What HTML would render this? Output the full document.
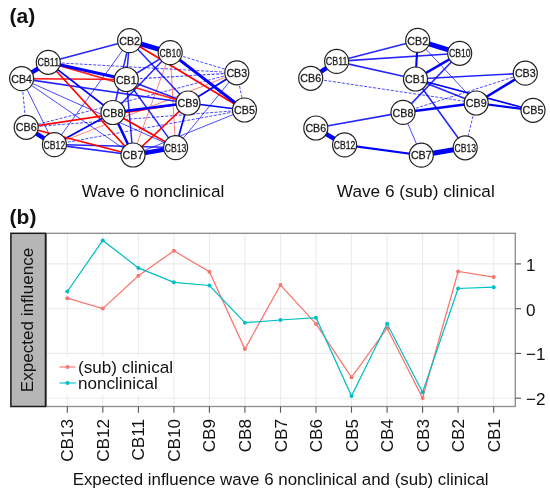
<!DOCTYPE html>
<html><head><meta charset="utf-8"><title>Expected influence networks</title>
<style>html,body{margin:0;padding:0;background:#fff;width:550px;height:495px;overflow:hidden;position:relative}</style>
</head><body>
<svg width="550" height="495" viewBox="0 0 550 495" style="position:absolute;left:0;top:0" font-family='"Liberation Sans", Arial, sans-serif'>
<rect width="550" height="495" fill="#fff"/>
<text x="9.6" y="23.2" font-size="21" font-weight="bold" fill="#111">(a)</text>
<text x="9.6" y="224.3" font-size="21" font-weight="bold" fill="#111">(b)</text>
<text x="153" y="197" font-size="17.2" text-anchor="middle" fill="#111">Wave 6 nonclinical</text>
<text x="415.8" y="197" font-size="17.2" text-anchor="middle" fill="#111">Wave 6 (sub) clinical</text>
<g stroke-linecap="butt">
<line x1="170.2" y1="52.6" x2="133.0" y2="155.0" stroke="#ff0000" stroke-opacity="0.50" stroke-width="1.00"/>
<line x1="170.2" y1="52.6" x2="175.6" y2="147.6" stroke="#ff0000" stroke-opacity="0.50" stroke-width="1.00"/>
<line x1="236.8" y1="72.8" x2="54.4" y2="144.6" stroke="#ff0000" stroke-opacity="0.50" stroke-width="1.00"/>
<line x1="48.3" y1="62.3" x2="236.8" y2="72.8" stroke="#0000ff" stroke-opacity="0.70" stroke-width="1.00" stroke-dasharray="3,1.5"/>
<line x1="21.6" y1="78.6" x2="175.6" y2="147.6" stroke="#0000ff" stroke-opacity="0.70" stroke-width="1.00"/>
<line x1="21.6" y1="78.6" x2="133.0" y2="155.0" stroke="#0000ff" stroke-opacity="0.70" stroke-width="1.00"/>
<line x1="21.6" y1="78.6" x2="54.4" y2="144.6" stroke="#0000ff" stroke-opacity="0.70" stroke-width="1.00"/>
<line x1="21.6" y1="78.6" x2="26.2" y2="127.3" stroke="#0000ff" stroke-opacity="0.70" stroke-width="1.00" stroke-dasharray="3,1.5"/>
<line x1="129.6" y1="40.6" x2="54.4" y2="144.6" stroke="#0000ff" stroke-opacity="0.70" stroke-width="1.00"/>
<line x1="170.2" y1="52.6" x2="236.8" y2="72.8" stroke="#0000ff" stroke-opacity="0.70" stroke-width="1.00" stroke-dasharray="3,1.5"/>
<line x1="236.8" y1="72.8" x2="244.5" y2="110.0" stroke="#0000ff" stroke-opacity="0.70" stroke-width="1.00" stroke-dasharray="3,1.5"/>
<line x1="236.8" y1="72.8" x2="175.6" y2="147.6" stroke="#0000ff" stroke-opacity="0.70" stroke-width="1.00"/>
<line x1="236.8" y1="72.8" x2="26.2" y2="127.3" stroke="#0000ff" stroke-opacity="0.70" stroke-width="1.00" stroke-dasharray="3,1.5"/>
<line x1="26.2" y1="127.3" x2="244.5" y2="110.0" stroke="#0000ff" stroke-opacity="0.70" stroke-width="1.00" stroke-dasharray="3,1.5"/>
<line x1="54.4" y1="144.6" x2="244.5" y2="110.0" stroke="#0000ff" stroke-opacity="0.70" stroke-width="1.00" stroke-dasharray="3,1.5"/>
<line x1="133.0" y1="155.0" x2="244.5" y2="110.0" stroke="#0000ff" stroke-opacity="0.70" stroke-width="1.00"/>
<line x1="126.3" y1="79.5" x2="236.8" y2="72.8" stroke="#0000ff" stroke-opacity="0.70" stroke-width="1.20" stroke-dasharray="3,1.5"/>
<line x1="129.6" y1="40.6" x2="126.3" y2="79.5" stroke="#0000ff" stroke-opacity="0.85" stroke-width="1.50"/>
<line x1="129.6" y1="40.6" x2="113.0" y2="112.5" stroke="#0000ff" stroke-opacity="0.85" stroke-width="1.50"/>
<line x1="129.6" y1="40.6" x2="188.0" y2="103.0" stroke="#0000ff" stroke-opacity="0.85" stroke-width="1.50"/>
<line x1="170.2" y1="52.6" x2="126.3" y2="79.5" stroke="#0000ff" stroke-opacity="0.85" stroke-width="1.50"/>
<line x1="170.2" y1="52.6" x2="113.0" y2="112.5" stroke="#0000ff" stroke-opacity="0.85" stroke-width="1.50"/>
<line x1="126.3" y1="79.5" x2="188.0" y2="103.0" stroke="#0000ff" stroke-opacity="0.85" stroke-width="1.50"/>
<line x1="126.3" y1="79.5" x2="133.0" y2="155.0" stroke="#0000ff" stroke-opacity="0.85" stroke-width="1.50"/>
<line x1="126.3" y1="79.5" x2="175.6" y2="147.6" stroke="#0000ff" stroke-opacity="0.85" stroke-width="1.50"/>
<line x1="54.4" y1="144.6" x2="175.6" y2="147.6" stroke="#0000ff" stroke-opacity="0.85" stroke-width="1.50"/>
<line x1="48.3" y1="62.3" x2="129.6" y2="40.6" stroke="#0000ff" stroke-opacity="0.85" stroke-width="1.60"/>
<line x1="21.6" y1="78.6" x2="126.3" y2="79.5" stroke="#ff0000" stroke-opacity="0.85" stroke-width="1.60"/>
<line x1="21.6" y1="78.6" x2="188.0" y2="103.0" stroke="#0000ff" stroke-opacity="0.85" stroke-width="1.60"/>
<line x1="54.4" y1="144.6" x2="133.0" y2="155.0" stroke="#0000ff" stroke-opacity="0.85" stroke-width="1.60"/>
<line x1="48.3" y1="62.3" x2="188.0" y2="103.0" stroke="#ff0000" stroke-opacity="0.85" stroke-width="1.80"/>
<line x1="48.3" y1="62.3" x2="133.0" y2="155.0" stroke="#ff0000" stroke-opacity="1.00" stroke-width="1.70"/>
<line x1="48.3" y1="62.3" x2="113.0" y2="112.5" stroke="#0000ff" stroke-opacity="1.00" stroke-width="1.70"/>
<line x1="129.6" y1="40.6" x2="244.5" y2="110.0" stroke="#ff0000" stroke-opacity="1.00" stroke-width="1.70"/>
<line x1="236.8" y1="72.8" x2="188.0" y2="103.0" stroke="#0000ff" stroke-opacity="1.00" stroke-width="1.70"/>
<line x1="188.0" y1="103.0" x2="244.5" y2="110.0" stroke="#0000ff" stroke-opacity="1.00" stroke-width="1.70"/>
<line x1="188.0" y1="103.0" x2="175.6" y2="147.6" stroke="#0000ff" stroke-opacity="1.00" stroke-width="1.70"/>
<line x1="188.0" y1="103.0" x2="133.0" y2="155.0" stroke="#ff0000" stroke-opacity="1.00" stroke-width="1.70"/>
<line x1="188.0" y1="103.0" x2="26.2" y2="127.3" stroke="#ff0000" stroke-opacity="1.00" stroke-width="1.70"/>
<line x1="113.0" y1="112.5" x2="175.6" y2="147.6" stroke="#ff0000" stroke-opacity="1.00" stroke-width="1.70"/>
<line x1="113.0" y1="112.5" x2="54.4" y2="144.6" stroke="#0000ff" stroke-opacity="1.00" stroke-width="1.70"/>
<line x1="26.2" y1="127.3" x2="133.0" y2="155.0" stroke="#ff0000" stroke-opacity="1.00" stroke-width="1.70"/>
<line x1="188.0" y1="103.0" x2="113.0" y2="112.5" stroke="#0000ff" stroke-opacity="1.00" stroke-width="2.55"/>
<line x1="113.0" y1="112.5" x2="133.0" y2="155.0" stroke="#0000ff" stroke-opacity="1.00" stroke-width="2.55"/>
<line x1="48.3" y1="62.3" x2="126.3" y2="79.5" stroke="#0000ff" stroke-opacity="1.00" stroke-width="2.98"/>
<line x1="170.2" y1="52.6" x2="244.5" y2="110.0" stroke="#0000ff" stroke-opacity="1.00" stroke-width="3.06"/>
<line x1="48.3" y1="62.3" x2="21.6" y2="78.6" stroke="#0000ff" stroke-opacity="1.00" stroke-width="4.50"/>
<line x1="26.2" y1="127.3" x2="54.4" y2="144.6" stroke="#0000ff" stroke-opacity="1.00" stroke-width="4.50"/>
<line x1="133.0" y1="155.0" x2="175.6" y2="147.6" stroke="#0000ff" stroke-opacity="1.00" stroke-width="4.50"/>
<line x1="129.6" y1="40.6" x2="170.2" y2="52.6" stroke="#0000ff" stroke-opacity="1.00" stroke-width="5.00"/>
<line x1="417.7" y1="40.4" x2="476.2" y2="103.0" stroke="#0000ff" stroke-opacity="0.70" stroke-width="1.00"/>
<line x1="403.0" y1="112.4" x2="525.3" y2="73.2" stroke="#0000ff" stroke-opacity="0.70" stroke-width="1.00" stroke-dasharray="3,1.5"/>
<line x1="403.0" y1="112.4" x2="421.3" y2="155.2" stroke="#0000ff" stroke-opacity="0.70" stroke-width="1.00"/>
<line x1="476.2" y1="103.0" x2="465.2" y2="147.8" stroke="#0000ff" stroke-opacity="0.70" stroke-width="1.00" stroke-dasharray="3,1.5"/>
<line x1="310.7" y1="78.3" x2="476.2" y2="103.0" stroke="#0000ff" stroke-opacity="0.70" stroke-width="1.00" stroke-dasharray="3,1.5"/>
<line x1="336.6" y1="61.4" x2="417.7" y2="40.4" stroke="#0000ff" stroke-opacity="0.85" stroke-width="1.60"/>
<line x1="336.6" y1="61.4" x2="459.7" y2="53.3" stroke="#0000ff" stroke-opacity="0.85" stroke-width="1.60"/>
<line x1="336.6" y1="61.4" x2="415.5" y2="79.0" stroke="#0000ff" stroke-opacity="0.85" stroke-width="1.60"/>
<line x1="459.7" y1="53.3" x2="403.0" y2="112.4" stroke="#0000ff" stroke-opacity="0.85" stroke-width="1.60"/>
<line x1="415.5" y1="79.0" x2="525.3" y2="73.2" stroke="#0000ff" stroke-opacity="0.85" stroke-width="1.60"/>
<line x1="415.5" y1="79.0" x2="476.2" y2="103.0" stroke="#0000ff" stroke-opacity="0.85" stroke-width="1.60"/>
<line x1="415.5" y1="79.0" x2="465.2" y2="147.8" stroke="#0000ff" stroke-opacity="0.85" stroke-width="1.60"/>
<line x1="403.0" y1="112.4" x2="315.8" y2="128.0" stroke="#0000ff" stroke-opacity="0.85" stroke-width="1.60"/>
<line x1="415.5" y1="79.0" x2="533.0" y2="110.3" stroke="#0000ff" stroke-opacity="1.00" stroke-width="1.70"/>
<line x1="417.7" y1="40.4" x2="415.5" y2="79.0" stroke="#0000ff" stroke-opacity="1.00" stroke-width="2.12"/>
<line x1="476.2" y1="103.0" x2="533.0" y2="110.3" stroke="#0000ff" stroke-opacity="1.00" stroke-width="2.12"/>
<line x1="344.6" y1="144.9" x2="421.3" y2="155.2" stroke="#0000ff" stroke-opacity="1.00" stroke-width="2.12"/>
<line x1="459.7" y1="53.3" x2="415.5" y2="79.0" stroke="#0000ff" stroke-opacity="1.00" stroke-width="2.55"/>
<line x1="476.2" y1="103.0" x2="525.3" y2="73.2" stroke="#0000ff" stroke-opacity="1.00" stroke-width="2.55"/>
<line x1="403.0" y1="112.4" x2="476.2" y2="103.0" stroke="#0000ff" stroke-opacity="1.00" stroke-width="2.55"/>
<line x1="310.7" y1="78.3" x2="336.6" y2="61.4" stroke="#0000ff" stroke-opacity="1.00" stroke-width="4.50"/>
<line x1="315.8" y1="128.0" x2="344.6" y2="144.9" stroke="#0000ff" stroke-opacity="1.00" stroke-width="4.50"/>
<line x1="417.7" y1="40.4" x2="459.7" y2="53.3" stroke="#0000ff" stroke-opacity="1.00" stroke-width="5.00"/>
<line x1="421.3" y1="155.2" x2="465.2" y2="147.8" stroke="#0000ff" stroke-opacity="1.00" stroke-width="5.00"/>
</g>
<circle cx="129.6" cy="40.6" r="12.0" fill="#fff" stroke="#222" stroke-width="1.2"/>
<text x="129.6" y="44.7" font-size="11.8" text-anchor="middle" textLength="20.8" lengthAdjust="spacingAndGlyphs" fill="#1a1a1a" stroke="#1a1a1a" stroke-width="0.3">CB2</text>
<circle cx="170.2" cy="52.6" r="12.0" fill="#fff" stroke="#222" stroke-width="1.2"/>
<text x="170.2" y="56.5" font-size="11.4" text-anchor="middle" textLength="21.6" lengthAdjust="spacingAndGlyphs" fill="#1a1a1a" stroke="#1a1a1a" stroke-width="0.3">CB10</text>
<circle cx="48.3" cy="62.3" r="12.0" fill="#fff" stroke="#222" stroke-width="1.2"/>
<text x="48.3" y="66.2" font-size="11.4" text-anchor="middle" textLength="21.6" lengthAdjust="spacingAndGlyphs" fill="#1a1a1a" stroke="#1a1a1a" stroke-width="0.3">CB11</text>
<circle cx="21.6" cy="78.6" r="12.0" fill="#fff" stroke="#222" stroke-width="1.2"/>
<text x="21.6" y="82.7" font-size="11.8" text-anchor="middle" textLength="20.8" lengthAdjust="spacingAndGlyphs" fill="#1a1a1a" stroke="#1a1a1a" stroke-width="0.3">CB4</text>
<circle cx="126.3" cy="79.5" r="12.0" fill="#fff" stroke="#222" stroke-width="1.2"/>
<text x="126.3" y="83.6" font-size="11.8" text-anchor="middle" textLength="20.8" lengthAdjust="spacingAndGlyphs" fill="#1a1a1a" stroke="#1a1a1a" stroke-width="0.3">CB1</text>
<circle cx="236.8" cy="72.8" r="12.0" fill="#fff" stroke="#222" stroke-width="1.2"/>
<text x="236.8" y="76.9" font-size="11.8" text-anchor="middle" textLength="20.8" lengthAdjust="spacingAndGlyphs" fill="#1a1a1a" stroke="#1a1a1a" stroke-width="0.3">CB3</text>
<circle cx="188.0" cy="103.0" r="12.0" fill="#fff" stroke="#222" stroke-width="1.2"/>
<text x="188.0" y="107.1" font-size="11.8" text-anchor="middle" textLength="20.8" lengthAdjust="spacingAndGlyphs" fill="#1a1a1a" stroke="#1a1a1a" stroke-width="0.3">CB9</text>
<circle cx="113.0" cy="112.5" r="12.0" fill="#fff" stroke="#222" stroke-width="1.2"/>
<text x="113.0" y="116.6" font-size="11.8" text-anchor="middle" textLength="20.8" lengthAdjust="spacingAndGlyphs" fill="#1a1a1a" stroke="#1a1a1a" stroke-width="0.3">CB8</text>
<circle cx="244.5" cy="110.0" r="12.0" fill="#fff" stroke="#222" stroke-width="1.2"/>
<text x="244.5" y="114.1" font-size="11.8" text-anchor="middle" textLength="20.8" lengthAdjust="spacingAndGlyphs" fill="#1a1a1a" stroke="#1a1a1a" stroke-width="0.3">CB5</text>
<circle cx="26.2" cy="127.3" r="12.0" fill="#fff" stroke="#222" stroke-width="1.2"/>
<text x="26.2" y="131.4" font-size="11.8" text-anchor="middle" textLength="20.8" lengthAdjust="spacingAndGlyphs" fill="#1a1a1a" stroke="#1a1a1a" stroke-width="0.3">CB6</text>
<circle cx="54.4" cy="144.6" r="12.0" fill="#fff" stroke="#222" stroke-width="1.2"/>
<text x="54.4" y="148.5" font-size="11.4" text-anchor="middle" textLength="21.6" lengthAdjust="spacingAndGlyphs" fill="#1a1a1a" stroke="#1a1a1a" stroke-width="0.3">CB12</text>
<circle cx="133.0" cy="155.0" r="12.0" fill="#fff" stroke="#222" stroke-width="1.2"/>
<text x="133.0" y="159.1" font-size="11.8" text-anchor="middle" textLength="20.8" lengthAdjust="spacingAndGlyphs" fill="#1a1a1a" stroke="#1a1a1a" stroke-width="0.3">CB7</text>
<circle cx="175.6" cy="147.6" r="12.0" fill="#fff" stroke="#222" stroke-width="1.2"/>
<text x="175.6" y="151.5" font-size="11.4" text-anchor="middle" textLength="21.6" lengthAdjust="spacingAndGlyphs" fill="#1a1a1a" stroke="#1a1a1a" stroke-width="0.3">CB13</text>
<circle cx="417.7" cy="40.4" r="12.0" fill="#fff" stroke="#222" stroke-width="1.2"/>
<text x="417.7" y="44.5" font-size="11.8" text-anchor="middle" textLength="20.8" lengthAdjust="spacingAndGlyphs" fill="#1a1a1a" stroke="#1a1a1a" stroke-width="0.3">CB2</text>
<circle cx="459.7" cy="53.3" r="12.0" fill="#fff" stroke="#222" stroke-width="1.2"/>
<text x="459.7" y="57.2" font-size="11.4" text-anchor="middle" textLength="21.6" lengthAdjust="spacingAndGlyphs" fill="#1a1a1a" stroke="#1a1a1a" stroke-width="0.3">CB10</text>
<circle cx="336.6" cy="61.4" r="12.0" fill="#fff" stroke="#222" stroke-width="1.2"/>
<text x="336.6" y="65.3" font-size="11.4" text-anchor="middle" textLength="21.6" lengthAdjust="spacingAndGlyphs" fill="#1a1a1a" stroke="#1a1a1a" stroke-width="0.3">CB11</text>
<circle cx="310.7" cy="78.3" r="12.0" fill="#fff" stroke="#222" stroke-width="1.2"/>
<text x="310.7" y="82.4" font-size="11.8" text-anchor="middle" textLength="20.8" lengthAdjust="spacingAndGlyphs" fill="#1a1a1a" stroke="#1a1a1a" stroke-width="0.3">CB6</text>
<circle cx="415.5" cy="79.0" r="12.0" fill="#fff" stroke="#222" stroke-width="1.2"/>
<text x="415.5" y="83.1" font-size="11.8" text-anchor="middle" textLength="20.8" lengthAdjust="spacingAndGlyphs" fill="#1a1a1a" stroke="#1a1a1a" stroke-width="0.3">CB1</text>
<circle cx="525.3" cy="73.2" r="12.0" fill="#fff" stroke="#222" stroke-width="1.2"/>
<text x="525.3" y="77.3" font-size="11.8" text-anchor="middle" textLength="20.8" lengthAdjust="spacingAndGlyphs" fill="#1a1a1a" stroke="#1a1a1a" stroke-width="0.3">CB3</text>
<circle cx="476.2" cy="103.0" r="12.0" fill="#fff" stroke="#222" stroke-width="1.2"/>
<text x="476.2" y="107.1" font-size="11.8" text-anchor="middle" textLength="20.8" lengthAdjust="spacingAndGlyphs" fill="#1a1a1a" stroke="#1a1a1a" stroke-width="0.3">CB9</text>
<circle cx="533.0" cy="110.3" r="12.0" fill="#fff" stroke="#222" stroke-width="1.2"/>
<text x="533.0" y="114.4" font-size="11.8" text-anchor="middle" textLength="20.8" lengthAdjust="spacingAndGlyphs" fill="#1a1a1a" stroke="#1a1a1a" stroke-width="0.3">CB5</text>
<circle cx="403.0" cy="112.4" r="12.0" fill="#fff" stroke="#222" stroke-width="1.2"/>
<text x="403.0" y="116.5" font-size="11.8" text-anchor="middle" textLength="20.8" lengthAdjust="spacingAndGlyphs" fill="#1a1a1a" stroke="#1a1a1a" stroke-width="0.3">CB8</text>
<circle cx="315.8" cy="128.0" r="12.0" fill="#fff" stroke="#222" stroke-width="1.2"/>
<text x="315.8" y="132.1" font-size="11.8" text-anchor="middle" textLength="20.8" lengthAdjust="spacingAndGlyphs" fill="#1a1a1a" stroke="#1a1a1a" stroke-width="0.3">CB6</text>
<circle cx="344.6" cy="144.9" r="12.0" fill="#fff" stroke="#222" stroke-width="1.2"/>
<text x="344.6" y="148.8" font-size="11.4" text-anchor="middle" textLength="21.6" lengthAdjust="spacingAndGlyphs" fill="#1a1a1a" stroke="#1a1a1a" stroke-width="0.3">CB12</text>
<circle cx="421.3" cy="155.2" r="12.0" fill="#fff" stroke="#222" stroke-width="1.2"/>
<text x="421.3" y="159.3" font-size="11.8" text-anchor="middle" textLength="20.8" lengthAdjust="spacingAndGlyphs" fill="#1a1a1a" stroke="#1a1a1a" stroke-width="0.3">CB7</text>
<circle cx="465.2" cy="147.8" r="12.0" fill="#fff" stroke="#222" stroke-width="1.2"/>
<text x="465.2" y="151.7" font-size="11.4" text-anchor="middle" textLength="21.6" lengthAdjust="spacingAndGlyphs" fill="#1a1a1a" stroke="#1a1a1a" stroke-width="0.3">CB13</text>
<g>
<line x1="46.4" x2="515.3" y1="263.9" y2="263.9" stroke="#ebebeb" stroke-width="1.1"/>
<line x1="46.4" x2="515.3" y1="308.7" y2="308.7" stroke="#ebebeb" stroke-width="1.1"/>
<line x1="46.4" x2="515.3" y1="353.4" y2="353.4" stroke="#ebebeb" stroke-width="1.1"/>
<line x1="46.4" x2="515.3" y1="398.2" y2="398.2" stroke="#ebebeb" stroke-width="1.1"/>
<line x1="67.3" x2="67.3" y1="233.3" y2="406.5" stroke="#ebebeb" stroke-width="1.1"/>
<line x1="102.8" x2="102.8" y1="233.3" y2="406.5" stroke="#ebebeb" stroke-width="1.1"/>
<line x1="138.4" x2="138.4" y1="233.3" y2="406.5" stroke="#ebebeb" stroke-width="1.1"/>
<line x1="173.9" x2="173.9" y1="233.3" y2="406.5" stroke="#ebebeb" stroke-width="1.1"/>
<line x1="209.4" x2="209.4" y1="233.3" y2="406.5" stroke="#ebebeb" stroke-width="1.1"/>
<line x1="244.9" x2="244.9" y1="233.3" y2="406.5" stroke="#ebebeb" stroke-width="1.1"/>
<line x1="280.5" x2="280.5" y1="233.3" y2="406.5" stroke="#ebebeb" stroke-width="1.1"/>
<line x1="316.0" x2="316.0" y1="233.3" y2="406.5" stroke="#ebebeb" stroke-width="1.1"/>
<line x1="351.5" x2="351.5" y1="233.3" y2="406.5" stroke="#ebebeb" stroke-width="1.1"/>
<line x1="387.1" x2="387.1" y1="233.3" y2="406.5" stroke="#ebebeb" stroke-width="1.1"/>
<line x1="422.6" x2="422.6" y1="233.3" y2="406.5" stroke="#ebebeb" stroke-width="1.1"/>
<line x1="458.1" x2="458.1" y1="233.3" y2="406.5" stroke="#ebebeb" stroke-width="1.1"/>
<line x1="493.7" x2="493.7" y1="233.3" y2="406.5" stroke="#ebebeb" stroke-width="1.1"/>
<rect x="55" y="356.8" width="117" height="38.2" fill="#fff"/>
<polyline points="67.3,298.2 102.8,308.6 138.4,275.8 173.9,250.8 209.4,271.8 244.9,349.0 280.5,285.0 316.0,323.9 351.5,377.3 387.1,328.2 422.6,398.0 458.1,271.5 493.7,277.1" fill="none" stroke="#F8766D" stroke-width="1.25"/><circle cx="67.3" cy="298.2" r="2.0" fill="#F8766D"/><circle cx="102.8" cy="308.6" r="2.0" fill="#F8766D"/><circle cx="138.4" cy="275.8" r="2.0" fill="#F8766D"/><circle cx="173.9" cy="250.8" r="2.0" fill="#F8766D"/><circle cx="209.4" cy="271.8" r="2.0" fill="#F8766D"/><circle cx="244.9" cy="349.0" r="2.0" fill="#F8766D"/><circle cx="280.5" cy="285.0" r="2.0" fill="#F8766D"/><circle cx="316.0" cy="323.9" r="2.0" fill="#F8766D"/><circle cx="351.5" cy="377.3" r="2.0" fill="#F8766D"/><circle cx="387.1" cy="328.2" r="2.0" fill="#F8766D"/><circle cx="422.6" cy="398.0" r="2.0" fill="#F8766D"/><circle cx="458.1" cy="271.5" r="2.0" fill="#F8766D"/><circle cx="493.7" cy="277.1" r="2.0" fill="#F8766D"/>
<polyline points="67.3,291.5 102.8,240.4 138.4,267.9 173.9,282.3 209.4,285.5 244.9,322.7 280.5,320.0 316.0,317.7 351.5,396.0 387.1,323.8 422.6,392.2 458.1,288.5 493.7,287.2" fill="none" stroke="#00BFC4" stroke-width="1.25"/><circle cx="67.3" cy="291.5" r="2.0" fill="#00BFC4"/><circle cx="102.8" cy="240.4" r="2.0" fill="#00BFC4"/><circle cx="138.4" cy="267.9" r="2.0" fill="#00BFC4"/><circle cx="173.9" cy="282.3" r="2.0" fill="#00BFC4"/><circle cx="209.4" cy="285.5" r="2.0" fill="#00BFC4"/><circle cx="244.9" cy="322.7" r="2.0" fill="#00BFC4"/><circle cx="280.5" cy="320.0" r="2.0" fill="#00BFC4"/><circle cx="316.0" cy="317.7" r="2.0" fill="#00BFC4"/><circle cx="351.5" cy="396.0" r="2.0" fill="#00BFC4"/><circle cx="387.1" cy="323.8" r="2.0" fill="#00BFC4"/><circle cx="422.6" cy="392.2" r="2.0" fill="#00BFC4"/><circle cx="458.1" cy="288.5" r="2.0" fill="#00BFC4"/><circle cx="493.7" cy="287.2" r="2.0" fill="#00BFC4"/>
<line x1="59.5" x2="75.5" y1="367" y2="367" stroke="#F8766D" stroke-width="1.1"/><circle cx="67.5" cy="367" r="2.0" fill="#F8766D"/>
<line x1="59.5" x2="75.5" y1="383" y2="383" stroke="#00BFC4" stroke-width="1.1"/><circle cx="67.5" cy="383" r="2.0" fill="#00BFC4"/>
<text x="78" y="373" font-size="17.1" fill="#111">(sub) clinical</text>
<text x="78" y="389" font-size="17.1" fill="#111">nonclinical</text>
<rect x="46.4" y="233.3" width="468.9" height="173.2" fill="none" stroke="#8a8a8a" stroke-width="1.3"/>
<rect x="10.9" y="233.3" width="34.6" height="173.2" fill="#b6b6b6" stroke="#1a1a1a" stroke-width="1.5"/>
<text transform="translate(32.8,320) rotate(-90)" font-size="17.1" text-anchor="middle" fill="#111">Expected influence</text>
<line x1="515.3" x2="521.1" y1="263.9" y2="263.9" stroke="#555" stroke-width="1.1"/>
<text x="526" y="270.9" font-size="17.1" fill="#111">1</text>
<line x1="515.3" x2="521.1" y1="308.7" y2="308.7" stroke="#555" stroke-width="1.1"/>
<text x="526" y="315.7" font-size="17.1" fill="#111">0</text>
<line x1="515.3" x2="521.1" y1="353.4" y2="353.4" stroke="#555" stroke-width="1.1"/>
<text x="526" y="360.4" font-size="17.1" fill="#111">−1</text>
<line x1="515.3" x2="521.1" y1="398.2" y2="398.2" stroke="#555" stroke-width="1.1"/>
<text x="526" y="405.2" font-size="17.1" fill="#111">−2</text>
<line x1="67.3" x2="67.3" y1="406.5" y2="412.8" stroke="#555" stroke-width="1.1"/>
<text transform="translate(73.3,419) rotate(-90)" font-size="17.1" text-anchor="end" fill="#111">CB13</text>
<line x1="102.8" x2="102.8" y1="406.5" y2="412.8" stroke="#555" stroke-width="1.1"/>
<text transform="translate(108.8,419) rotate(-90)" font-size="17.1" text-anchor="end" fill="#111">CB12</text>
<line x1="138.4" x2="138.4" y1="406.5" y2="412.8" stroke="#555" stroke-width="1.1"/>
<text transform="translate(144.4,419) rotate(-90)" font-size="17.1" text-anchor="end" fill="#111">CB11</text>
<line x1="173.9" x2="173.9" y1="406.5" y2="412.8" stroke="#555" stroke-width="1.1"/>
<text transform="translate(179.9,419) rotate(-90)" font-size="17.1" text-anchor="end" fill="#111">CB10</text>
<line x1="209.4" x2="209.4" y1="406.5" y2="412.8" stroke="#555" stroke-width="1.1"/>
<text transform="translate(215.4,419) rotate(-90)" font-size="17.1" text-anchor="end" fill="#111">CB9</text>
<line x1="244.9" x2="244.9" y1="406.5" y2="412.8" stroke="#555" stroke-width="1.1"/>
<text transform="translate(250.9,419) rotate(-90)" font-size="17.1" text-anchor="end" fill="#111">CB8</text>
<line x1="280.5" x2="280.5" y1="406.5" y2="412.8" stroke="#555" stroke-width="1.1"/>
<text transform="translate(286.5,419) rotate(-90)" font-size="17.1" text-anchor="end" fill="#111">CB7</text>
<line x1="316.0" x2="316.0" y1="406.5" y2="412.8" stroke="#555" stroke-width="1.1"/>
<text transform="translate(322.0,419) rotate(-90)" font-size="17.1" text-anchor="end" fill="#111">CB6</text>
<line x1="351.5" x2="351.5" y1="406.5" y2="412.8" stroke="#555" stroke-width="1.1"/>
<text transform="translate(357.5,419) rotate(-90)" font-size="17.1" text-anchor="end" fill="#111">CB5</text>
<line x1="387.1" x2="387.1" y1="406.5" y2="412.8" stroke="#555" stroke-width="1.1"/>
<text transform="translate(393.1,419) rotate(-90)" font-size="17.1" text-anchor="end" fill="#111">CB4</text>
<line x1="422.6" x2="422.6" y1="406.5" y2="412.8" stroke="#555" stroke-width="1.1"/>
<text transform="translate(428.6,419) rotate(-90)" font-size="17.1" text-anchor="end" fill="#111">CB3</text>
<line x1="458.1" x2="458.1" y1="406.5" y2="412.8" stroke="#555" stroke-width="1.1"/>
<text transform="translate(464.1,419) rotate(-90)" font-size="17.1" text-anchor="end" fill="#111">CB2</text>
<line x1="493.7" x2="493.7" y1="406.5" y2="412.8" stroke="#555" stroke-width="1.1"/>
<text transform="translate(499.7,419) rotate(-90)" font-size="17.1" text-anchor="end" fill="#111">CB1</text>
<text x="280.6" y="485" font-size="16.9" text-anchor="middle" fill="#111">Expected influence wave 6 nonclinical and (sub) clinical</text>
</g>
</svg>
</body></html>
